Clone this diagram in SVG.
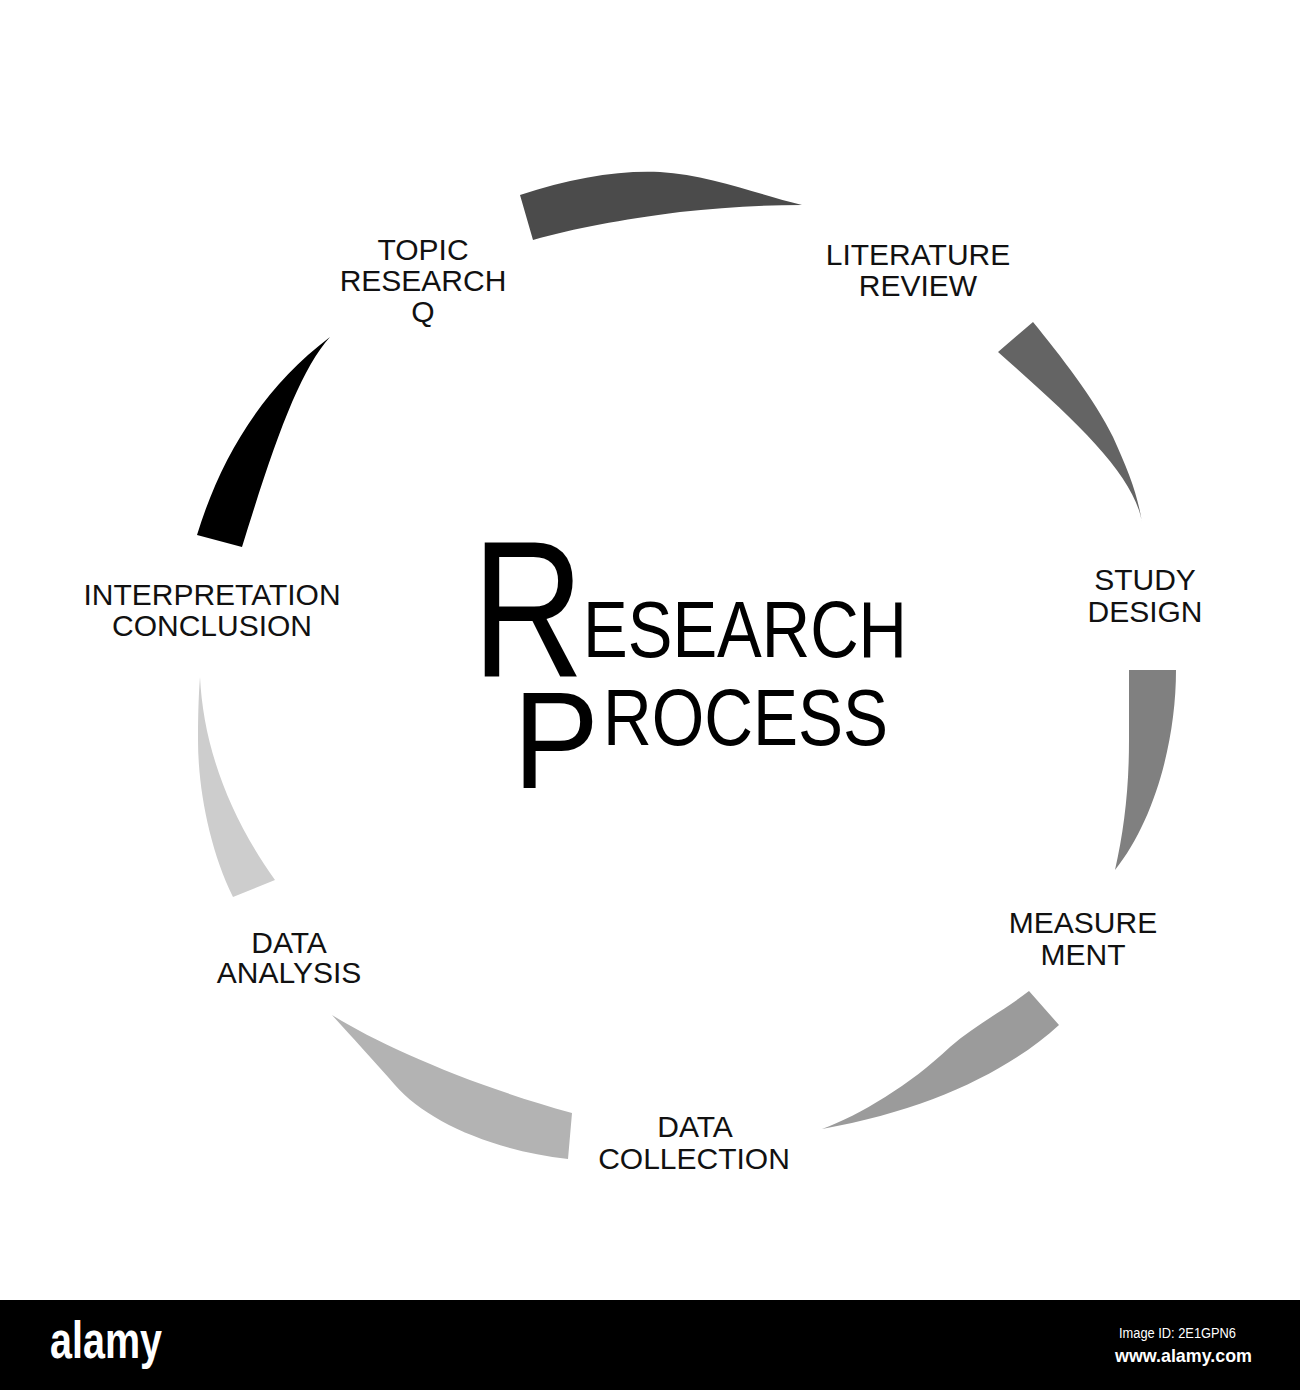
<svg xmlns="http://www.w3.org/2000/svg" width="1300" height="1390" viewBox="0 0 1300 1390">
<style>
.lbl{font-family:"Liberation Sans",Arial,sans-serif;font-size:30px;fill:#111;text-anchor:middle}
.ttl{font-family:"Liberation Sans",Arial,sans-serif;fill:#000}
.foot{font-family:"Liberation Sans",Arial,sans-serif;fill:#fff}
</style>
<rect x="0" y="0" width="1300" height="1390" fill="#fff"/>
<g id="connectors">
<path id="c1" fill="#4b4b4b" d="M520,195 C570,178 620,170 660,172 C710,175 760,195 802,205 C760,205 720,208 680,212 C620,220 575,228 533,240 Z"/>
<path id="c2" fill="#646464" d="M998,352 L1033,322 C1060,355 1095,400 1113,437 C1128,470 1138,495 1142,523 C1135,475 1075,420 998,352 Z"/>
<path id="c3" fill="#808080" d="M1129,670 L1176,670 C1176,740 1155,820 1115,870 C1124,830 1129,790 1129,740 Z"/>
<path id="c4" fill="#9b9b9b" d="M1029,991 L1059,1025 C1010,1070 930,1110 822,1129 C860,1115 910,1085 950,1047 C975,1025 1005,1010 1029,991 Z"/>
<path id="c5" fill="#b3b3b3" d="M332,1015 C380,1045 470,1085 572,1113 L568,1159 C490,1150 425,1120 395,1085 C375,1062 350,1035 332,1015 Z"/>
<path id="c6" fill="#cdcdcd" d="M200,677 C203,740 225,810 275,880 L233,897 C210,850 198,790 198,740 C198,710 199,690 200,677 Z"/>
<path id="c7" fill="#000" d="M330,337 C300,370 275,440 242,547 L197,535 C220,460 260,390 330,337 Z"/>
</g>
<g id="title">
<text class="ttl" x="472" y="677" font-size="194" textLength="112" lengthAdjust="spacingAndGlyphs">R</text>
<text class="ttl" x="583" y="657" font-size="79" textLength="324" lengthAdjust="spacingAndGlyphs">ESEARCH</text>
<text class="ttl" x="513" y="788" font-size="138" textLength="86" lengthAdjust="spacingAndGlyphs">P</text>
<text class="ttl" x="603" y="745" font-size="79" textLength="285" lengthAdjust="spacingAndGlyphs">ROCESS</text>
</g>
<g id="node-topic"><text class="lbl" x="423" y="260">TOPIC</text><text class="lbl" x="423" y="291">RESEARCH</text><text class="lbl" x="423" y="322">Q</text></g>
<g id="node-literature"><text class="lbl" x="918" y="265">LITERATURE</text><text class="lbl" x="918" y="296">REVIEW</text></g>
<g id="node-study"><text class="lbl" x="1145" y="590">STUDY</text><text class="lbl" x="1145" y="622">DESIGN</text></g>
<g id="node-measurement"><text class="lbl" x="1083" y="933">MEASURE</text><text class="lbl" x="1083" y="965">MENT</text></g>
<g id="node-collection"><text class="lbl" x="695" y="1137">DATA</text><text class="lbl" x="694" y="1169">COLLECTION</text></g>
<g id="node-analysis"><text class="lbl" x="289" y="953">DATA</text><text class="lbl" x="289" y="983">ANALYSIS</text></g>
<g id="node-interpretation"><text class="lbl" x="212" y="605">INTERPRETATION</text><text class="lbl" x="212" y="636">CONCLUSION</text></g>
<g id="footer">
<rect x="0" y="1300" width="1300" height="90" fill="#000"/>
<text class="foot" x="50" y="1358" font-size="52" font-weight="bold" textLength="112" lengthAdjust="spacingAndGlyphs">alamy</text>
<text class="foot" x="1119" y="1338" font-size="14" textLength="117" lengthAdjust="spacingAndGlyphs">Image ID: 2E1GPN6</text>
<text class="foot" x="1115" y="1362" font-size="19" font-weight="bold" textLength="137" lengthAdjust="spacingAndGlyphs">www.alamy.com</text>
</g>
</svg>
